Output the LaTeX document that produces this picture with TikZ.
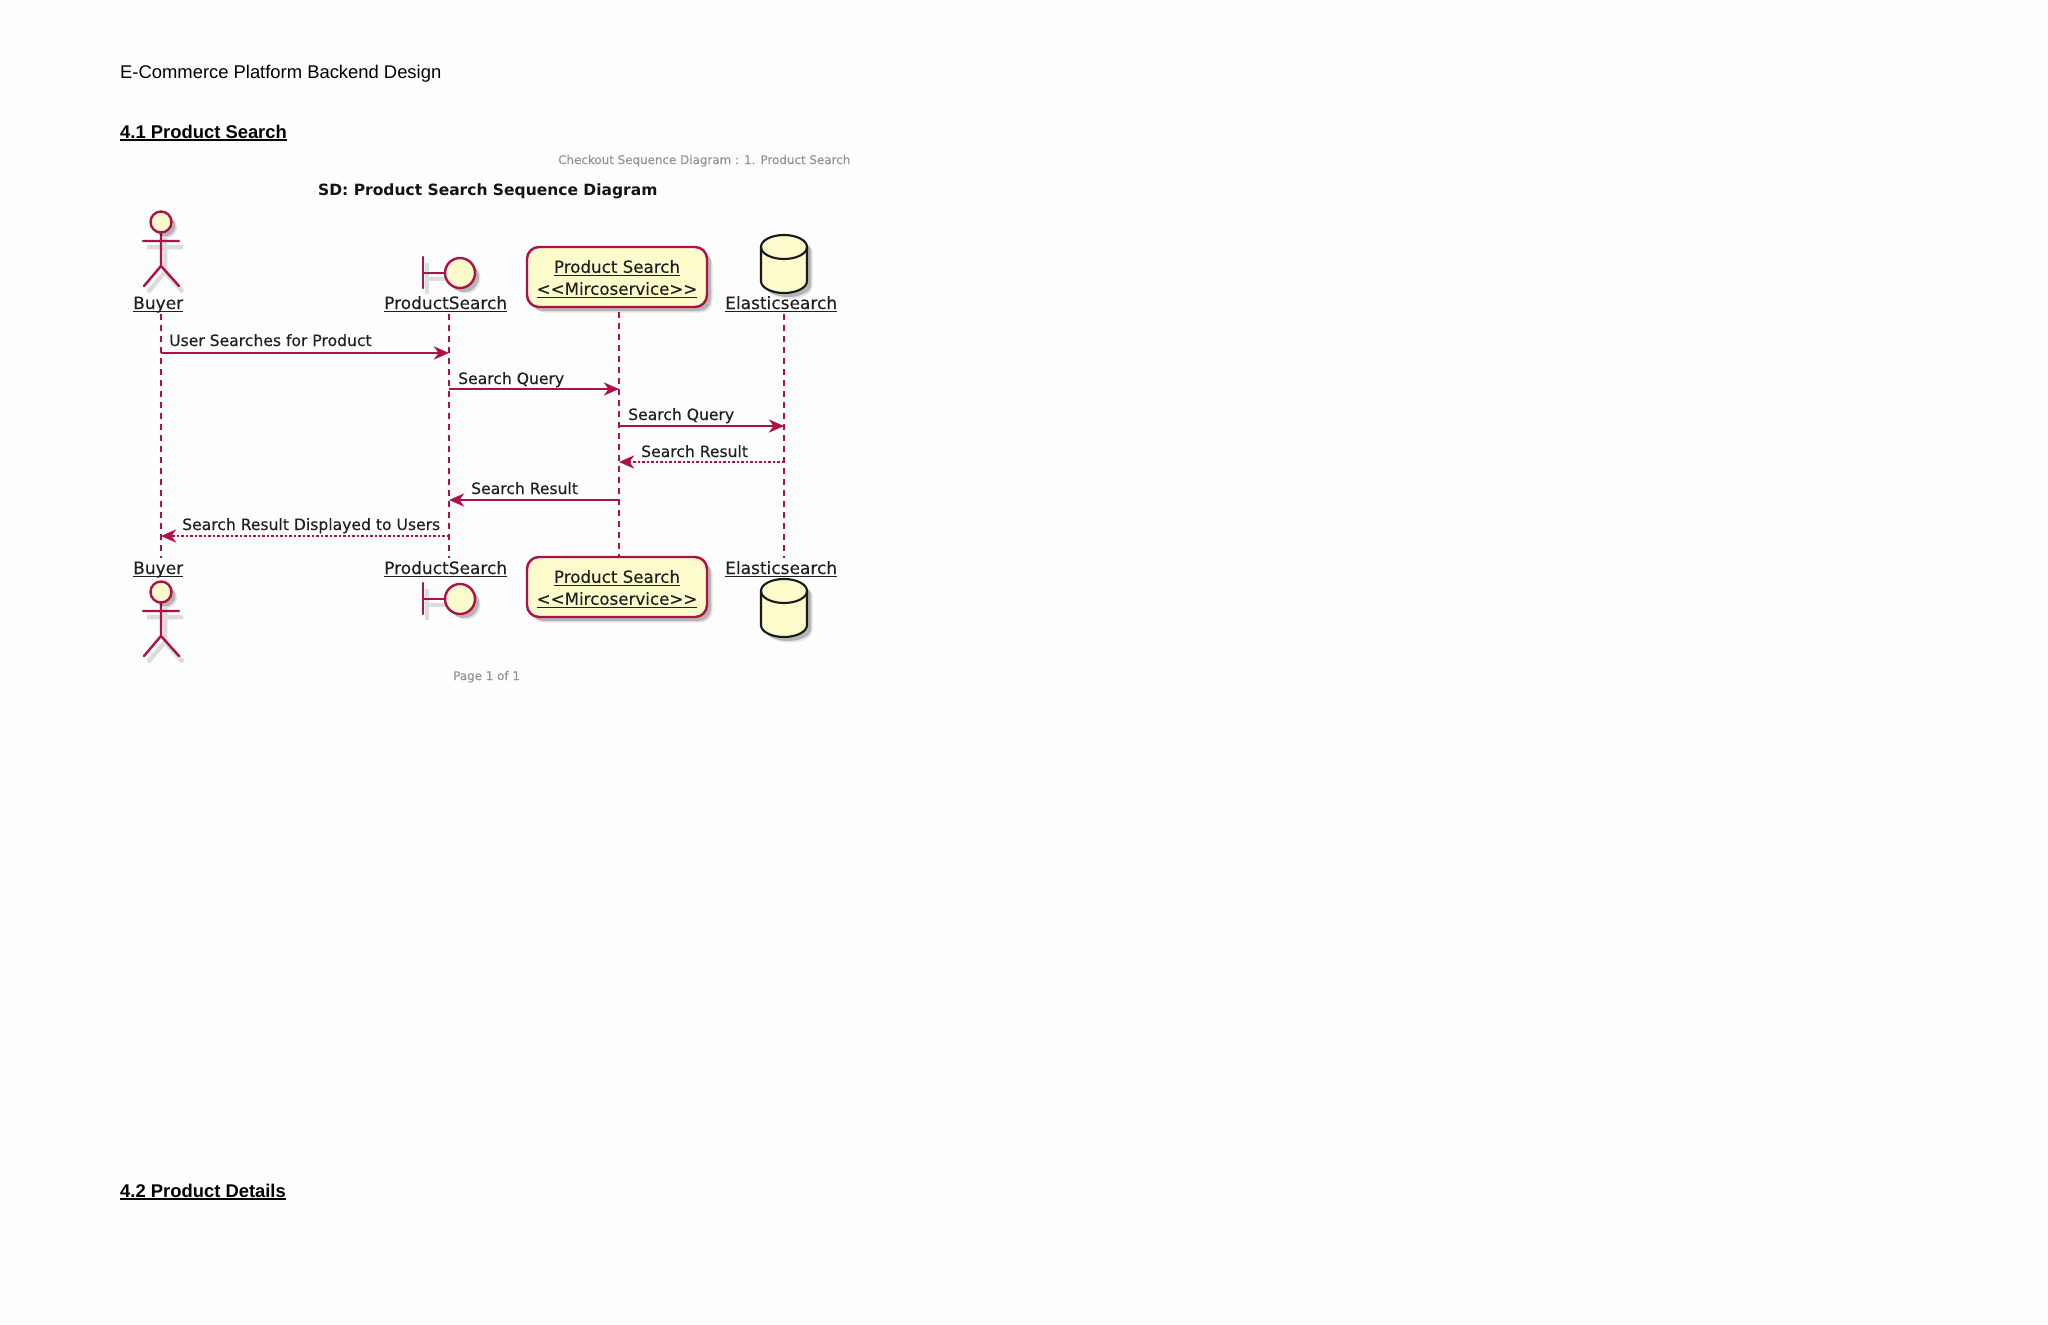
\documentclass[tikz,border=0pt]{standalone}
\usepackage{fontspec}
\setmainfont{Liberation Sans}
\newfontfamily\umlfont[UprightFeatures={FakeBold=0.25}]{DejaVu Sans}
\usetikzlibrary{arrows.meta,shadows}
\definecolor{umlred}{HTML}{B01048}
\definecolor{umlfill}{HTML}{FBFBCB}
\definecolor{pagegray}{HTML}{FDFDFD}
\newcommand{\ulbox}[1]{\setbox0\hbox{#1}\rlap{\copy0}\rule[-3.4pt]{\wd0}{1.4pt}}
\newcommand{\headul}[1]{\setbox0\hbox{#1}\rlap{\copy0}\rule[-2.6pt]{\wd0}{1.8pt}}
\tikzset{
    %Define standard arrow tip
    >={Stealth[length=15pt,width=13pt,inset=4.5pt]},
    %Define style for page texts
    pagetext/.style={anchor=base west, inner sep=0pt, font=\fontsize{18.4}{22}\selectfont},
    heading/.style={pagetext, font=\fontsize{18.4}{22}\selectfont\bfseries},
    %Define style for diagram texts
    titletext/.style={anchor=base west, inner sep=0pt, text=black!92, font=\umlfont\fontsize{15.5}{20}\selectfont\bfseries},
    graytext/.style={anchor=base west, inner sep=0pt, text=black!42, font=\umlfont\fontsize{11.9}{14}\selectfont},
    partlabel/.style={anchor=base west, inner sep=0pt, text=black!88, font=\umlfont\fontsize{17}{20}\selectfont},
    msglabel/.style={anchor=base west, inner sep=0pt, text=black!88, font=\umlfont\fontsize{15.6}{18}\selectfont},
    softshadow/.style={
           general shadow={shadow xshift=5.5pt,shadow yshift=-5.5pt,fill=black,opacity=.1},
           general shadow={shadow xshift=4pt,shadow yshift=-4pt,fill=black,opacity=.2}},
    % Define box style
    servicebox/.style={
           rectangle,
           rounded corners=12pt,
           draw=umlred, line width=2.4pt,
           fill=umlfill,
           minimum width=180pt,
           minimum height=60pt,
           inner sep=0pt,
           align=center,
           text=black!88,
           font=\umlfont\fontsize{16.7}{22}\selectfont,
           softshadow},
    % Define arrow styles
    lifeline/.style={umlred, line width=1.1pt, dash pattern=on 6pt off 5pt},
    msg/.style={->, umlred, line width=2.8pt},
    reply/.style={->, umlred, line width=2.8pt, dash pattern=on 2.2pt off 2.3pt},
    iconline/.style={umlred, line width=2.4pt, line cap=round},
    iconghost/.style={black, opacity=.13, line width=4.5pt},
    headcircle/.style={circle, draw=umlred, line width=2.4pt, fill=umlfill, inner sep=0pt, softshadow},
    % Define the participant icons
    actor/.pic={
        \draw[iconghost] (-14,25) -- (22,25) (4,16) -- (4,50) (-13,70) -- (4,50) -- (22,70);
        \draw[iconline] (-18,19) -- (18,19) (0,10) -- (0,44) (-17,64) -- (0,44) -- (18,64);
        \node[headcircle, minimum size=21pt] (head) at (0,0) {};
    },
    boundary/.pic={
        \draw[iconghost] (-33,-10) -- (-33,21) (-33,6) -- (-15,6);
        \draw[iconline] (-37,-16) -- (-37,15) (-37,0) -- (-15,0);
        \node[headcircle, minimum size=30pt] (head) at (0,0) {};
    },
    database/.pic={
        \draw[draw=black!90, line width=2.1pt, fill=umlfill, softshadow]
            (-23,-17) -- (-23,17) arc[start angle=180,end angle=360,x radius=23pt,y radius=12pt]
            -- (23,-17) arc[start angle=0,end angle=180,x radius=23pt,y radius=12pt] -- cycle;
        \draw[draw=black!90, line width=2.1pt]
            (-23,-17) arc[start angle=180,end angle=360,x radius=23pt,y radius=12pt];
    }
}
\begin{document}
\begin{tikzpicture}[x=1pt,y=-1pt]
\useasboundingbox[fill=pagegray] (0,0) rectangle (2048,1325);
% page texts
\node[pagetext](docTitle) at (120,78){E-Commerce Platform Backend Design};
\node[heading](searchHead) at (120,138){\headul{4.1 Product Search}};
\node[heading](detailsHead) at (120,1197){\headul{4.2 Product Details}};
% diagram texts
\node[graytext](header) at (558,164){Checkout Sequence Diagram : 1. Product Search};
\node[titletext](title) at (318,195){SD: Product Search Sequence Diagram};
\node[graytext](footer) at (453,680){Page 1 of 1};
% lifeline ends
\coordinate (buyerTop) at (161,314);
\coordinate (buyerBot) at (161,558);
\coordinate (productTop) at (449,314);
\coordinate (productBot) at (449,558);
\coordinate (serviceTop) at (619,312);
\coordinate (serviceBot) at (619,557);
\coordinate (elasticTop) at (784,314);
\coordinate (elasticBot) at (784,558);
\draw[lifeline] (buyerTop) -- (buyerBot);
\draw[lifeline] (productTop) -- (productBot);
\draw[lifeline] (serviceTop) -- (serviceBot);
\draw[lifeline] (elasticTop) -- (elasticBot);
% participants, top row
\pic (buyerIconA) at (161,222) {actor};
\pic (productIconA) at (460,273) {boundary};
\node[servicebox](serviceA) at (617,277){\rule{0pt}{17pt}\ulbox{Product Search}\\\ulbox{<{}<Mircoservice>{}>}};
\pic (elasticIconA) at (784,264) {database};
\node[partlabel](buyerA) at (133,309){\ulbox{Buyer}};
\node[partlabel](productA) at (384,309){\ulbox{ProductSearch}};
\node[partlabel](elasticA) at (725,309){\ulbox{Elasticsearch}};
% participants, bottom row
\pic (buyerIconB) at (161,592) {actor};
\pic (productIconB) at (460,599) {boundary};
\node[servicebox](serviceB) at (617,587){\rule{0pt}{17pt}\ulbox{Product Search}\\\ulbox{<{}<Mircoservice>{}>}};
\pic (elasticIconB) at (784,608) {database};
\node[partlabel](buyerB) at (133,574){\ulbox{Buyer}};
\node[partlabel](productB) at (384,574){\ulbox{ProductSearch}};
\node[partlabel](elasticB) at (725,574){\ulbox{Elasticsearch}};
% message rows
\foreach \row/\ypos in {1/353,2/389,3/426,4/462,5/500,6/536}{
    \coordinate (buyer\row) at (161,\ypos);
    \coordinate (product\row) at (449,\ypos);
    \coordinate (service\row) at (619,\ypos);
    \coordinate (elastic\row) at (784,\ypos);
}
\draw[msg] (buyer1) -- (product1);
\draw[msg] (product2) -- (service2);
\draw[msg] (service3) -- (elastic3);
\draw[reply] (elastic4) -- (service4);
\draw[msg] (service5) -- (product5);
\draw[reply] (product6) -- (buyer6);
\node[msglabel](userLabel) at (169,346){User Searches for Product};
\node[msglabel](queryLabelA) at (458,384){Search Query};
\node[msglabel](queryLabelB) at (628,420){Search Query};
\node[msglabel](resultLabelA) at (641,457){Search Result};
\node[msglabel](resultLabelB) at (471,494){Search Result};
\node[msglabel](resultLabelC) at (182,530){Search Result Displayed to Users};
\end{tikzpicture}
\end{document}
